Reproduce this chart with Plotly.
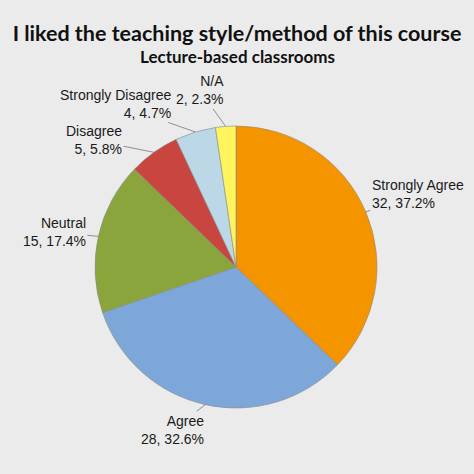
import numpy as np
import plotly.graph_objects as go

# survey answers, lecture-based classrooms
labels = ['Strongly Agree', 'Agree', 'Neutral', 'Disagree', 'Strongly Disagree', 'N/A']
counts = [32, 28, 15, 5, 4, 2]
colors = ['#F49500', '#7DA7D9', '#8AA53C', '#C94540', '#BCD8E6', '#FEF45E']

W = H = 474
cx, cy, R = 236, 267, 141   # pie centre / radius in px

fig = go.Figure(go.Pie(
    labels=labels, values=counts, sort=False, direction='clockwise', rotation=0,
    marker=dict(colors=colors, line=dict(color='#8a8a8a', width=0.6)),
    textinfo='none', hoverinfo='label+value+percent', showlegend=False,
    domain=dict(x=[(cx - R) / W, (cx + R) / W], y=[1 - (cy + R) / H, 1 - (cy - R) / H]),
))

# label offsets (px) from the slice edge, Excel "best fit" style
offsets = [(52, -18), (-33, 25), (-44, -4), (-60, -12), (-80, -28), (-26, -36)]

total = sum(counts)
start = 0.0
for lab, n, (ox, oy) in zip(labels, counts, offsets):
    span = 360.0 * n / total
    mid = np.radians(start + span / 2)
    start += span
    px_ = cx + R * np.sin(mid)
    py_ = cy - R * np.cos(mid)
    fig.add_annotation(
        x=px_ / W, y=1 - py_ / H, xref='paper', yref='paper',
        text=f"{lab}<br>{n}, {100 * n / total:.1f}%",
        showarrow=True, arrowhead=0, arrowwidth=0.8, arrowcolor='#777777',
        ax=ox, ay=oy, standoff=0,
        align='left' if ox > 0 else 'right',
        font=dict(family='Liberation Sans, Arial', size=14, color='#1a1a1a'),
    )

fig.add_annotation(
    text='<b>Lecture-based classrooms</b>', x=0.5, y=1 - 57 / H,
    xref='paper', yref='paper', yanchor='middle', showarrow=False,
    font=dict(family='Lato', size=17, color='#111111'),
)

fig.update_layout(
    width=W, height=H,
    margin=dict(l=0, r=0, t=0, b=0),
    paper_bgcolor='#EBEBEB', plot_bgcolor='#EBEBEB',
    title=dict(text='<b>I liked the teaching style/method of this course</b>',
               x=0.5, xanchor='center', y=1 - 33 / H, yanchor='middle',
               font=dict(family='Lato', size=21.5, color='#111111')),
)

fig.write_html("out.html", config={'displayModeBar': False},
               post_script="document.body.style.margin='0';")
